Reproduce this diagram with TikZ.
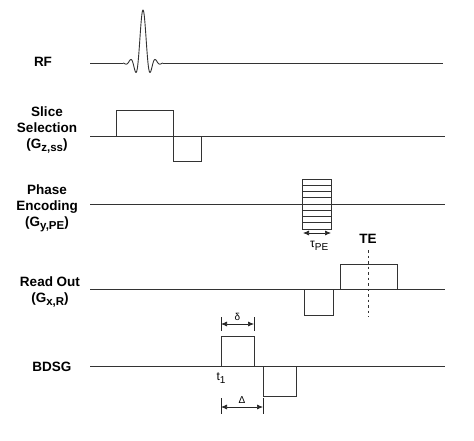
\documentclass[tikz,border=0pt]{standalone}
\usepackage{fontspec}
\setmainfont{Liberation Sans}
\usetikzlibrary{arrows.meta}
\newcommand{\mysubtxt}[1]{\raisebox{-0.45ex}{\fontsize{11.5}{11.5}\selectfont #1}}
\begin{document}
\begin{tikzpicture}[x=1pt,y=-1pt,
  wave/.style={line width=0.9pt, draw=black!80, line join=miter},
  lab/.style={font=\fontsize{13.5}{16}\selectfont\bfseries, align=center, inner sep=0pt},
  small/.style={font=\fontsize{10}{12}\selectfont, inner sep=0pt},
  dimarrow/.style={line width=0.7pt, draw=black!85, {Latex[length=6pt,width=5pt]}-{Latex[length=6pt,width=5pt]}},
  tick/.style={line width=0.5pt, draw=black!85}]
\useasboundingbox (0,0) rectangle (474,440);
\fill[white] (0,0) rectangle (474,440);

% labels
\node[lab] (lRF) at (43,62) {RF};
\node[lab] (lSS) at (47,130) {Slice\\Selection\\(G\mysubtxt{z,ss})};
\node[lab] (lPE) at (47,208) {Phase\\Encoding\\(G\mysubtxt{y,PE})};
\node[lab] (lRO) at (50,292) {Read Out\\(G\mysubtxt{x,R})};
\node[lab] (lBD) at (52,367) {BDSG};

% RF
\coordinate (rfa) at (90,63);
\coordinate (rfb) at (123,63);
\coordinate (rfc) at (163,63);
\coordinate (rfd) at (443,63);
\draw[wave] (rfa) -- (rfb);
\draw[wave] plot[domain=-20:20, samples=200, smooth]
  ({143+\x},{63-53*sin(36*\x)/(0.62832*\x)*(cos(3.6*\x))^2});
\draw[wave] (rfc) -- (rfd);

% Slice selection
\coordinate (ssa) at (90,136);
\coordinate (ssb) at (445,136);
\draw[wave] (ssa) -- (ssb);
\draw[wave] (116,136) -- (116,110) -- (173,110) -- (173,161) -- (201,161) -- (201,136);

% Phase encoding
\coordinate (pea) at (90,204);
\coordinate (peb) at (445,204);
\draw[wave] (pea) -- (peb);
\draw[wave] (302,179) rectangle (331,229);
\foreach \k in {1,...,7} \draw[wave] (302,179+6.25*\k) -- (331,179+6.25*\k);
\coordinate (tpa) at (303,233);
\coordinate (tpb) at (331,233);
\draw[dimarrow] (tpa) -- (tpb);
\node[inner sep=0pt, anchor=base west] (ltau) at (310,247) {\fontsize{12}{12}\selectfont τ\raisebox{-0.5ex}{\fontsize{10}{10}\selectfont PE}};

% Read out
\coordinate (roa) at (90,289);
\coordinate (rob) at (445,289);
\draw[wave] (roa) -- (rob);
\draw[wave] (304,289) -- (304,315) -- (333,315) -- (333,289);
\draw[wave] (340,289) -- (340,264) -- (397,264) -- (397,289);
\node[lab] (lTE) at (368,239) {TE};
\coordinate (tea) at (368,250);
\coordinate (teb) at (368,317);
\draw[line width=0.9pt, draw=black!80, dash pattern=on 2.5pt off 3pt] (tea) -- (teb);

% BDSG
\coordinate (bda) at (90,366);
\coordinate (bdb) at (445,366);
\draw[wave] (bda) -- (bdb);
\draw[wave] (221,366) -- (221,336) -- (254,336) -- (254,366);
\draw[wave] (263,366) -- (263,396) -- (296,396) -- (296,366);

% delta
\coordinate (d1t) at (221,317);
\coordinate (d1b) at (221,331);
\coordinate (d2t) at (254,317);
\coordinate (d2b) at (254,331);
\draw[tick] (d1t) -- (d1b);
\draw[tick] (d2t) -- (d2b);
\coordinate (da) at (221,324);
\coordinate (db) at (254,324);
\draw[dimarrow] (da) -- (db);
\node[small] (ldelta) at (237.5,317) {δ};

% Delta
\coordinate (D1t) at (221,398);
\coordinate (D1b) at (221,414);
\coordinate (D2t) at (263,398);
\coordinate (D2b) at (263,414);
\draw[tick] (D1t) -- (D1b);
\draw[tick] (D2t) -- (D2b);
\coordinate (Da) at (221,407);
\coordinate (Db) at (263,407);
\draw[dimarrow] (Da) -- (Db);
\node[small] (lDelta) at (242,400) {Δ};

% t1
\node[inner sep=0pt, anchor=base] (lt1) at (221,380) {\fontsize{12}{12}\selectfont t\raisebox{-0.5ex}{\fontsize{10}{10}\selectfont 1}};
\end{tikzpicture}
\end{document}
